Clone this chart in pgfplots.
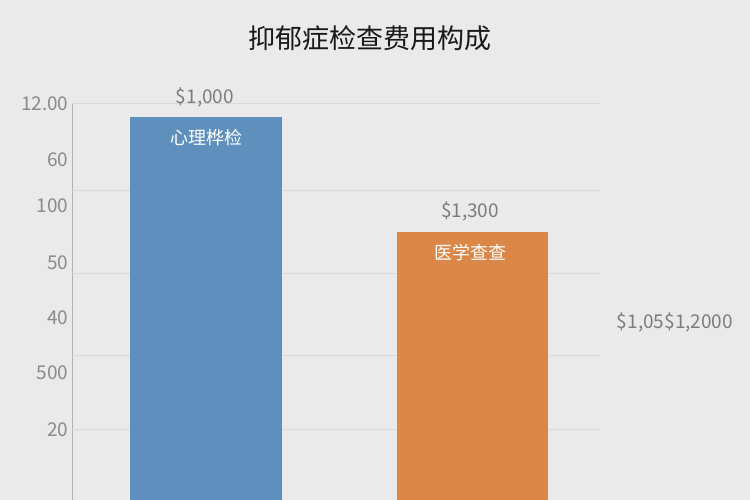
\documentclass[border=0pt]{standalone}
\usepackage{pgfplots}
\pgfplotsset{compat=1.18}
\usepackage{fontspec}
\setmainfont{Noto Sans CJK SC}
\newfontfamily\cjk{Noto Sans CJK SC}
\definecolor{bg}{HTML}{EAEAEA}
\definecolor{barblue}{HTML}{5F8FBC}
\definecolor{barorange}{HTML}{DB8748}
\definecolor{gridc}{HTML}{DADADA}
\definecolor{tickc}{HTML}{8A8A8A}
\definecolor{valc}{HTML}{7C7C7C}
\begin{document}
\begin{tikzpicture}[x=1pt,y=1pt]
\fill[bg] (0,0) rectangle (750,500);
\node[font=\fontsize{27}{30}\selectfont\cjk, text=black!90, anchor=center] at (370,462) {抑郁症检查费用构成};
\begin{axis}[
  at={(72pt,0pt)}, anchor=south west,
  scale only axis, width=528pt, height=397pt,
  xmin=72, xmax=600, ymin=0, ymax=397,
  axis x line=none, axis y line=left,
  axis line style={-, color=black!30, line width=0.8pt},
  xtick=\empty,
  ytick={396,340,294,237,182,127,70},
  yticklabels={12.00,60,100,50,40,500,20},
  yticklabel style={font=\fontsize{19}{21}\selectfont, text=tickc},
  major tick length=0pt,
  extra y ticks={397,310,227,145,71},
  extra y tick labels={},
  extra y tick style={grid=major, major grid style={gridc, line width=0.8pt}},
  clip mode=individual,
]
\addplot[ybar, bar width=152, bar shift=0pt, fill=barblue, draw=none] coordinates {(206,383)};
\addplot[ybar, bar width=151, bar shift=0pt, fill=barorange, draw=none] coordinates {(472.5,268)};
\node[font=\fontsize{18}{20}\selectfont, text=white] at (axis cs:206,362) {心理桦检};
\node[font=\fontsize{18}{20}\selectfont, text=white] at (axis cs:470,247) {医学查查};
\node[font=\fontsize{19}{21}\selectfont, text=valc] at (axis cs:205,403) {\$1,000};
\node[font=\fontsize{19}{21}\selectfont, text=valc] at (axis cs:470,289) {\$1,300};
\end{axis}
\node[font=\fontsize{19}{21}\selectfont, text=valc] at (675,178) {\$1,05\$1,2000};
\pgfresetboundingbox
\path[use as bounding box] (0,0) rectangle (750,500);
\end{tikzpicture}
\end{document}
